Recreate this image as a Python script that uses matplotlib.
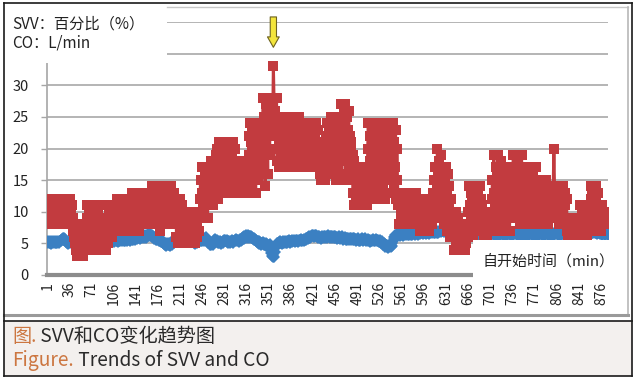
import numpy as np
import matplotlib.pyplot as plt
from matplotlib.patches import Rectangle
from matplotlib.lines import Line2D

plt.rcParams['font.family'] = ['Noto Sans CJK SC', 'DejaVu Sans']

# SVV (%) per minute
svv = [
    9, 11, 12, 10, 9, 12, 11, 8, 10, 12, 9, 11, 10, 12, 9, 8, 11, 10, 9, 10,
    8, 10, 9, 10, 11, 12, 9, 10, 12, 8, 11, 9, 12, 10, 11, 8, 12, 9, 10, 11,
    9, 7, 6, 8, 5, 4, 7, 3, 5, 6, 4, 8, 3, 5, 7, 4, 6, 3, 5, 8,
    6, 4, 9, 11, 7, 5, 10, 8, 4, 11, 6, 9, 5, 10, 7, 11, 8, 4, 9, 6,
    10, 7, 11, 5, 8, 6, 9, 4, 7, 5, 8, 6, 9, 4, 7, 8, 5, 10, 11, 7,
    9, 11, 6, 10, 8, 11, 7, 9, 10, 8, 12, 9, 7, 11, 10, 12, 8, 9, 11, 10,
    12, 8, 10, 11, 7, 9, 12, 10, 8, 11, 9, 12, 10, 7, 13, 11, 9, 12, 8, 13,
    10, 12, 9, 13, 11, 7, 12, 10, 13, 8, 11, 9, 13, 12, 10, 8, 11, 13, 9, 12,
    10, 13, 11, 8, 12, 9, 14, 12, 10, 13, 8, 11, 14, 9, 12, 10, 14, 11, 7, 13,
    12, 9, 14, 11, 10, 13, 8, 12, 14, 10, 11, 9, 13, 12, 8, 14, 10, 12, 9, 11,
    13, 10, 8, 12, 6, 9, 11, 5, 10, 7, 12, 8, 6, 11, 9, 5, 7, 10, 6, 8,
    9, 5, 7, 10, 6, 8, 5, 9, 7, 10, 6, 8, 9, 5, 7, 10, 8, 6, 9, 7,
    10, 12, 15, 9, 13, 17, 11, 14, 10, 16, 12, 17, 13, 9, 15, 11, 16, 14, 18, 12,
    15, 17, 11, 18, 13, 16, 19, 14, 20, 12, 17, 21, 15, 20, 13, 18, 21, 14, 19, 16,
    17, 19, 14, 18, 15, 20, 16, 21, 13, 18, 21, 15, 19, 17, 21, 14, 20, 16, 18, 15,
    17, 14, 18, 13, 16, 15, 18, 14, 17, 13, 16, 18, 15, 14, 17, 13, 18, 16, 22, 19,
    24, 17, 21, 14, 23, 19, 16, 24, 20, 13, 22, 18, 24, 15, 21, 23, 17, 20, 24, 16,
    22, 28, 18, 25, 14, 27, 21, 24, 16, 28, 23, 19, 26, 28, 22, 27, 24, 33, 28, 25,
    26, 20, 28, 18, 22, 24, 17, 21, 25, 19, 23, 18, 24, 20, 22, 17, 25, 21, 19, 23,
    18, 24, 20, 22, 17, 25, 21, 19, 24, 18, 23, 20, 17, 24, 22, 19, 21, 25, 18, 20,
    23, 17, 21, 24, 19, 22, 18, 24, 20, 17, 23, 21, 19, 24, 18, 22, 20, 17, 24, 21,
    19, 23, 18, 22, 24, 20, 17, 21, 23, 19, 16, 21, 15, 18, 20, 17, 21, 16, 19, 15,
    22, 18, 24, 16, 20, 23, 17, 21, 25, 19, 16, 23, 20, 25, 18, 22, 15, 24, 21, 17,
    23, 19, 25, 20, 27, 16, 24, 22, 26, 18, 27, 21, 15, 25, 19, 23, 26, 17, 22, 20,
    21, 16, 19, 13, 18, 11, 15, 17, 12, 14, 16, 11, 15, 13, 17, 12, 14, 16, 11, 15,
    13, 17, 12, 16, 14, 11, 20, 24, 15, 22, 18, 13, 24, 19, 21, 14, 23, 17, 12, 22,
    18, 24, 15, 20, 13, 23, 19, 16, 24, 21, 14, 22, 17, 24, 12, 20, 18, 23, 15, 21,
    24, 16, 19, 13, 22, 18, 24, 14, 21, 17, 23, 12, 20, 15, 11, 13, 8, 12, 10, 9,
    12, 10, 13, 8, 11, 9, 13, 10, 8, 12, 11, 9, 13, 10, 12, 8, 11, 13, 9, 10,
    12, 8, 11, 13, 9, 10, 12, 8, 11, 7, 10, 12, 9, 8, 11, 7, 12, 10, 9, 11,
    8, 12, 10, 7, 11, 9, 12, 8, 10, 13, 9, 15, 11, 17, 10, 14, 20, 16, 12, 18,
    14, 19, 11, 16, 9, 17, 12, 8, 15, 10, 17, 13, 7, 16, 11, 14, 6, 12, 9, 8,
    10, 6, 9, 4, 7, 10, 5, 8, 6, 9, 4, 7, 5, 8, 4, 6, 7, 5, 8, 4,
    6, 8, 5, 7, 10, 8, 14, 11, 7, 13, 9, 12, 6, 14, 10, 8, 12, 7, 11, 9,
    13, 8, 10, 14, 7, 12, 9, 11, 8, 10, 6, 9, 7, 10, 8, 6, 9, 10, 7, 8,
    10, 7, 12, 15, 9, 19, 13, 11, 17, 8, 14, 19, 10, 16, 12, 7, 18, 13, 9, 15,
    11, 17, 8, 14, 12, 16, 9, 13, 17, 10, 7, 15, 12, 16, 9, 14, 19, 11, 16, 13,
    9, 18, 14, 11, 19, 12, 8, 16, 13, 19, 10, 15, 17, 12, 9, 14, 16, 11, 13, 17,
    10, 15, 12, 8, 17, 13, 11, 16, 9, 14, 12, 17, 10, 15, 8, 13, 11, 14, 9, 12,
    15, 10, 13, 8, 12, 14, 9, 11, 15, 10, 13, 8, 12, 14, 11, 9, 13, 10, 12, 14,
    20, 14, 11, 13, 9, 12, 14, 10, 8, 13, 11, 14, 9, 12, 10, 14, 8, 11, 13, 9,
    12, 7, 9, 6, 8, 5, 9, 7, 6, 8, 9, 5, 7, 8, 6, 9, 7, 5, 8, 6,
    9, 7, 11, 8, 10, 6, 11, 9, 7, 10, 8, 11, 6, 9, 10, 8, 11, 7, 12, 14,
    10, 13, 8, 14, 11, 9, 12, 14, 7, 10, 13, 9, 11, 8, 10, 7, 11, 9, 10, 8,
    10, 9, 8, 10, 9, 10,
]

# CO (L/min) per minute
co = [
    5.1, 5.3, 5.0, 5.2, 5.4, 5.1, 4.9, 5.2, 5.3, 5.0, 5.2, 5.4, 5.1, 5.3, 5.0, 5.2, 5.1, 5.4, 5.2, 5.0,
    5.3, 5.5, 5.4, 5.7, 5.8, 5.6, 5.8, 5.5, 5.7, 5.4, 5.2, 5.0, 5.1, 4.9, 5.2, 5.0, 5.3, 5.1, 5.2, 5.4,
    5.5, 5.3, 5.6, 5.4, 5.2, 5.5, 5.7, 5.3, 5.6, 5.4, 5.8, 5.5, 5.3, 5.6, 5.4, 5.7, 5.5, 5.2, 5.6, 5.4,
    5.7, 5.5, 5.3, 5.6, 5.8, 5.4, 5.6, 5.3, 5.5, 5.7, 5.4, 5.6, 5.2, 5.5, 5.3, 5.6, 5.8, 5.5, 5.7, 5.4,
    5.6, 5.3, 5.5, 5.7, 5.4, 5.2, 5.5, 5.6, 5.3, 5.5, 5.7, 5.4, 5.6, 5.3, 5.5, 5.2, 5.4, 5.6, 5.3, 5.5,
    5.4, 5.6, 5.3, 5.5, 5.7, 5.4, 5.2, 5.5, 5.3, 5.6, 5.4, 5.2, 5.5, 5.3, 5.6, 5.4, 5.7, 5.5, 5.3, 5.6,
    5.5, 5.3, 5.6, 5.4, 5.8, 5.6, 5.4, 5.7, 5.5, 5.9, 5.6, 5.4, 5.7, 5.5, 5.8, 5.6, 5.9, 5.7, 5.5, 5.8,
    6.0, 5.7, 5.9, 6.1, 5.8, 6.2, 6.0, 5.7, 6.1, 5.9, 6.3, 6.0, 5.8, 6.2, 6.4, 6.1, 5.9, 6.3, 6.0, 6.5,
    6.4, 6.2, 6.5, 6.3, 6.1, 6.4, 6.0, 6.2, 5.9, 5.7, 6.0, 5.8, 5.6, 5.9, 5.5, 5.7, 5.4, 5.6, 5.3, 5.5,
    5.2, 5.4, 5.0, 5.3, 4.9, 5.1, 4.7, 5.0, 4.6, 4.9, 4.7, 5.1, 4.8, 5.0, 4.6, 4.9, 5.2, 4.8, 5.0, 5.3,
    5.1, 5.4, 5.2, 5.5, 5.3, 5.6, 5.4, 5.2, 5.5, 5.7, 5.4, 5.6, 5.9, 5.7, 6.0, 5.8, 6.1, 5.9, 6.2, 6.0,
    6.2, 5.9, 6.1, 5.8, 5.6, 5.9, 5.5, 5.7, 5.3, 5.6, 5.2, 5.4, 5.0, 5.3, 4.9, 5.2, 5.4, 5.1, 5.3, 5.5,
    5.2, 5.5, 5.3, 5.6, 5.4, 5.8, 5.5, 5.3, 5.6, 5.9, 5.7, 6.0, 5.7, 5.4, 5.1, 5.4, 5.0, 4.8, 5.1, 4.7,
    5.0, 4.8, 5.2, 5.5, 5.3, 5.7, 5.4, 5.2, 5.5, 5.1, 5.3, 5.0, 5.2, 5.4, 5.1, 4.9, 5.2, 5.0, 5.3, 5.5,
    5.3, 5.6, 5.4, 5.2, 5.5, 5.3, 5.1, 5.4, 5.2, 5.0, 5.3, 5.5, 5.2, 5.4, 5.1, 5.3, 5.6, 5.4, 5.7, 5.5,
    5.3, 5.6, 5.4, 5.2, 5.5, 5.7, 5.4, 5.8, 5.6, 6.0, 5.7, 6.1, 5.9, 6.3, 6.0, 6.2, 5.9, 6.3, 6.1, 5.8,
    6.1, 5.9, 6.2, 5.8, 6.0, 5.7, 5.9, 5.5, 5.7, 5.3, 5.6, 5.2, 5.4, 5.0, 5.3, 4.9, 5.2, 5.0, 4.8, 5.1,
    4.9, 5.2, 4.8, 5.0, 4.7, 5.0, 4.6, 4.9, 4.5, 4.8, 4.6, 4.9, 4.5, 4.0, 3.5, 3.0, 2.8, 3.2, 2.9, 3.6,
    4.2, 4.7, 5.0, 4.8, 5.1, 4.9, 5.2, 5.0, 5.3, 5.1, 4.9, 5.2, 5.0, 5.3, 5.1, 5.4, 5.2, 5.0, 5.3, 5.1,
    5.4, 5.2, 5.5, 5.3, 5.1, 5.4, 5.2, 5.5, 5.3, 5.6, 5.4, 5.2, 5.5, 5.3, 5.6, 5.4, 5.2, 5.5, 5.3, 5.6,
    5.4, 5.7, 5.5, 5.3, 5.6, 5.4, 5.7, 5.5, 5.8, 5.6, 5.9, 5.7, 6.0, 5.8, 6.1, 5.9, 6.2, 6.0, 6.3, 6.1,
    6.3, 6.0, 6.2, 6.4, 6.1, 6.3, 6.0, 6.2, 5.9, 6.1, 5.8, 6.0, 5.7, 5.9, 6.1, 5.8, 6.0, 6.2, 5.9, 6.1,
    6.0, 6.2, 5.9, 6.1, 6.3, 6.0, 6.2, 5.8, 6.1, 5.9, 6.2, 6.0, 5.8, 6.1, 5.9, 6.2, 6.0, 5.7, 6.0, 5.8,
    6.1, 5.9, 5.7, 6.0, 5.8, 6.1, 5.9, 5.6, 5.9, 5.7, 6.0, 5.8, 5.5, 5.8, 5.6, 5.9, 5.7, 5.5, 5.8, 5.6,
    5.9, 5.7, 5.5, 5.8, 5.6, 5.9, 5.7, 5.4, 5.7, 5.5, 5.8, 5.6, 5.3, 5.6, 5.4, 5.7, 5.5, 5.8, 5.6, 5.4,
    5.7, 5.5, 5.8, 5.6, 5.3, 5.6, 5.4, 5.7, 5.5, 5.2, 5.5, 5.3, 5.6, 5.4, 5.7, 5.5, 5.3, 5.6, 5.4, 5.7,
    5.5, 5.3, 5.6, 5.4, 5.2, 5.5, 5.3, 5.1, 5.4, 5.0, 4.8, 5.1, 4.7, 4.9, 4.5, 4.8, 4.4, 4.7, 4.3, 4.6,
    4.4, 4.7, 4.5, 4.8, 4.6, 5.0, 5.3, 5.7, 6.0, 6.3, 6.1, 6.4, 6.2, 6.5, 6.3, 6.6, 6.4, 6.2, 6.5, 6.3,
    6.6, 6.4, 6.2, 6.5, 6.3, 6.6, 6.4, 6.7, 6.5, 6.3, 6.6, 6.4, 6.7, 6.5, 6.3, 6.6, 6.4, 6.7, 6.5, 6.8,
    6.6, 6.4, 6.7, 6.5, 6.8, 6.6, 6.4, 6.7, 6.5, 6.8, 6.6, 6.9, 6.7, 6.5, 6.8, 6.6, 6.9, 6.7, 6.5, 6.8,
    6.6, 6.9, 6.7, 6.5, 6.8, 6.6, 6.9, 6.7, 7.0, 6.8, 6.6, 6.9, 6.7, 7.0, 6.8, 6.6, 6.9, 6.7, 7.0, 6.8,
    7.0, 6.8, 7.1, 6.9, 7.2, 7.0, 6.8, 7.1, 6.9, 7.2, 7.0, 7.3, 7.1, 7.4, 7.2, 7.5, 7.3, 7.6, 7.4, 7.7,
    7.5, 7.8, 7.6, 7.9, 7.7, 8.0, 7.8, 8.1, 7.9, 8.2, 8.0, 7.8, 8.1, 7.9, 7.7, 8.0, 7.8, 7.6, 7.9, 7.5,
    7.7, 7.4, 7.6, 7.3, 7.1, 7.3, 7.0, 6.8, 7.0, 6.7, 6.9, 6.6, 6.8, 6.5, 6.7, 6.4, 6.6, 6.3, 6.5, 6.7,
    6.4, 6.6, 6.3, 6.5, 6.7, 6.4, 6.6, 6.3, 6.5, 6.7, 6.4, 6.6, 6.8, 6.5, 6.7, 6.4, 6.6, 6.3, 6.5, 6.7,
    6.4, 6.6, 6.8, 6.5, 6.7, 6.4, 6.6, 6.3, 6.5, 6.7, 6.4, 6.6, 6.3, 6.5, 6.7, 6.4, 6.6, 6.8, 6.5, 6.3,
    6.6, 6.4, 6.7, 6.5, 6.3, 6.6, 6.4, 6.7, 6.5, 6.8, 6.6, 6.4, 6.7, 6.5, 6.3, 6.6, 6.4, 6.7, 6.5, 6.8,
    6.6, 6.4, 6.7, 6.5, 6.3, 6.6, 6.4, 6.2, 6.5, 6.3, 6.6, 6.4, 6.7, 6.5, 6.3, 6.6, 6.4, 6.7, 6.5, 6.3,
    6.6, 6.4, 6.7, 6.5, 6.8, 6.6, 6.4, 6.7, 6.5, 6.3, 6.6, 6.4, 6.7, 6.5, 6.3, 6.6, 6.4, 6.7, 6.5, 6.8,
    6.6, 6.4, 6.7, 6.5, 6.3, 6.6, 6.4, 6.7, 6.5, 6.8, 6.6, 6.4, 6.7, 6.5, 6.3, 6.6, 6.4, 6.7, 6.5, 6.3,
    6.6, 6.4, 6.7, 6.5, 6.8, 6.6, 6.4, 6.7, 6.5, 6.3, 6.6, 6.4, 6.7, 6.5, 6.8, 6.6, 6.4, 6.7, 6.5, 6.3,
    6.6, 6.4, 6.7, 6.5, 6.3, 6.6, 6.4, 6.7, 6.5, 6.8, 6.6, 6.4, 6.7, 6.5, 6.3, 6.6, 6.4, 6.7, 6.5, 6.8,
    6.6, 6.4, 6.7, 6.5, 6.3, 6.6, 6.4, 6.7, 6.5, 6.8, 6.6, 6.9, 6.7, 6.5, 6.8, 6.6, 6.9, 6.7, 6.5, 6.8,
    6.6, 6.9, 6.7, 7.0, 6.8, 6.6, 6.9, 6.7, 6.5, 6.8, 6.6, 6.9, 6.7, 6.5, 6.8, 6.6, 6.4, 6.7, 6.5, 6.8,
    6.6, 6.4, 6.7, 6.5, 6.6, 6.4,
]

tick_labels = [str(v) for v in range(1, 877, 35)]
y_ticks = list(range(0, 31, 5))
y_grid_extra = [35, 40]

RED = '#c23b3f'
BLUE = '#3b80c2'
W, H = 637, 381

minutes = np.arange(1, len(svv) + 1)

fig = plt.figure(figsize=(W / 100, H / 100), dpi=100)
fig.patch.set_facecolor('white')

def fx(px):
    return px / W

def fy(py):
    return 1 - py / H

ax = fig.add_axes([fx(47), fy(275), fx(608) - fx(47), fy(22) - fy(275)])
ax.set_facecolor('white')
ax.plot(minutes, co, color=BLUE, lw=2.2, marker='D', ms=6.5, mew=0, zorder=3)
ax.plot(minutes, svv, color=RED, lw=2.2, marker='s', ms=7.5, mew=0, zorder=4)

ax.set_xlim(0.5, len(svv) + 0.5)
ax.set_ylim(0, 40)
ax.set_yticks(y_ticks)
ax.set_yticks(y_grid_extra, minor=True)
ax.set_xticks([int(t) for t in tick_labels])
ax.set_xticklabels(tick_labels, rotation=90, fontsize=10, color='#222222')
ax.tick_params(axis='x', length=0, pad=5)
ax.tick_params(axis='y', which='both', length=4, width=1, color='#a6a6a6', pad=9,
               labelsize=10.5, labelcolor='#222222')
ax.grid(axis='y', which='both', color='#b4b4b4', lw=1.4, zorder=0)
ax.set_axisbelow(True)
for side in ('top', 'right'):
    ax.spines[side].set_visible(False)
ax.spines['left'].set_color('#a6a6a6')
ax.spines['left'].set_linewidth(1.2)
ax.spines['bottom'].set_color('#8c8c8c')
ax.spines['bottom'].set_linewidth(3)

# arrow pointing at the SVV peak
peak = int(np.argmax(svv)) + 1
ax.annotate('', xy=(peak, 36), xytext=(peak, 40.8), annotation_clip=False,
            arrowprops=dict(arrowstyle='simple,head_width=0.85,head_length=0.75,tail_width=0.45',
                            fc='#f3e53c', ec='#6e6320', lw=0.8, shrinkA=0, shrinkB=0),
            zorder=6)

# white text boxes laid over the chart
fig.add_artist(Rectangle((fx(5), fy(63)), fx(167) - fx(5), fy(5) - fy(63),
                         transform=fig.transFigure, fc='white', ec='none', zorder=5))
fig.add_artist(Rectangle((fx(473), fy(278)), fx(626) - fx(473), fy(240) - fy(278),
                         transform=fig.transFigure, fc='white', ec='none', zorder=5))

# caption background
fig.add_artist(Rectangle((fx(4), fy(376)), fx(632) - fx(4), fy(321) - fy(376),
                         transform=fig.transFigure, fc='#f3f0ee', ec='none', zorder=5))

def hline(y, x0, x1, color, lw):
    fig.add_artist(Line2D([fx(x0), fx(x1)], [fy(y), fy(y)], transform=fig.transFigure,
                          color=color, lw=lw, zorder=7))

def vline(x, y0, y1, color, lw):
    fig.add_artist(Line2D([fx(x), fx(x)], [fy(y0), fy(y1)], transform=fig.transFigure,
                          color=color, lw=lw, zorder=7))

hline(7, 167, 628, '#c8c8c8', 1.0)
vline(628, 7, 315, '#b8b8b8', 1.2)
hline(315, 4, 628, '#9a9a9a', 2.2)
hline(321, 4, 632, '#1a1a1a', 1.2)
hline(3, 4, 632, '#1a1a1a', 1.2)
hline(376, 4, 632, '#1a1a1a', 1.2)
vline(4, 3, 376, '#1a1a1a', 1.2)
vline(632, 3, 376, '#1a1a1a', 1.2)

fig.text(fx(12), fy(29), 'SVV：百分比（%）', fontsize=11, color='#222222', zorder=8)
fig.text(fx(12), fy(48), 'CO：L/min', fontsize=11, color='#222222', zorder=8)
fig.text(fx(549), fy(261), '自开始时间（min）', fontsize=10.8, color='#222222',
         ha='center', va='center', zorder=8)

# caption, two colours per line
ORANGE = '#cc7640'
renderer = fig.canvas.get_renderer()
for base_y, head, rest in [(342, '图.', ' SVV和CO变化趋势图'),
                           (366, 'Figure.', ' Trends of SVV and CO')]:
    t = fig.text(fx(12), fy(base_y), head, fontsize=13.8, color=ORANGE, zorder=8)
    x1 = t.get_window_extent(renderer).x1
    fig.text(x1 / W, fy(base_y), rest, fontsize=13.8, color='#2a2a2a', zorder=8)

fig.savefig('out.png', dpi=100)
